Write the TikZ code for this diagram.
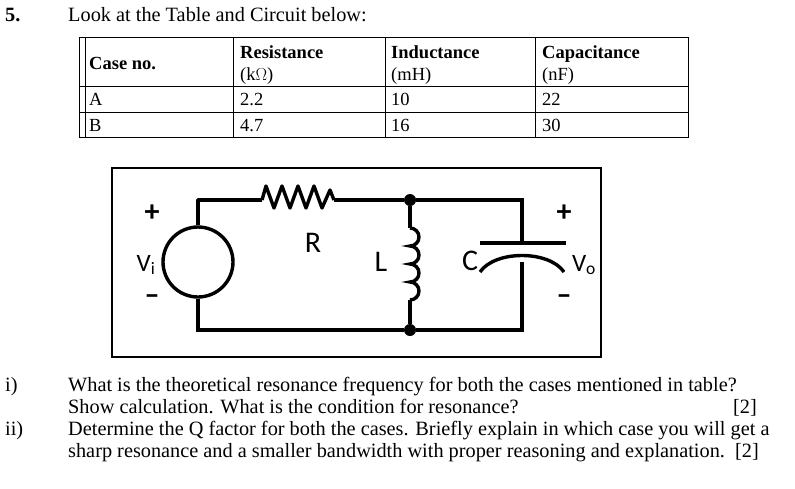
\documentclass[tikz,border=0pt]{standalone}
\usepackage{fontspec}
\setmainfont{Liberation Serif}
\newfontfamily\cktfont{Carlito}
\begin{document}
\begin{tikzpicture}[x=1pt,y=-1pt,
  txt/.style={anchor=base west,inner sep=0pt,font=\fontsize{20.3}{23}\selectfont},
  tab/.style={anchor=base west,inner sep=0pt,font=\fontsize{18.5}{20}\selectfont},
  tabb/.style={tab,font=\fontsize{18.5}{20}\selectfont\bfseries},
  ckt/.style={inner sep=0pt,font=\cktfont\fontsize{30}{32}\selectfont},
  vlab/.style={inner sep=0pt,font=\cktfont\fontsize{25}{27}\selectfont},
  wire/.style={line width=3.4pt},
  dot/.style={circle,fill,inner sep=0pt,minimum size=12pt}]
\useasboundingbox (0,0) rectangle (795,488);
% heading
\node[txt,font=\fontsize{20.3}{23}\selectfont\bfseries] (n5) at (5,21) {5.};
\node[txt] (intro) at (68,21) {Look at the Table and Circuit below:};
% table
\draw[line width=1pt] (79,37) rectangle (688,137);
\draw[line width=1pt] (85,37) -- (85,137);
\foreach \y in {86,112} \draw[line width=1pt] (79,\y) -- (688,\y);
\foreach \x in {233,385,535} \draw[line width=1pt] (\x,37) -- (\x,137);
\node[tabb] (h1) at (89,69) {Case no.};
\node[tabb] (h2) at (240,58) {Resistance};
\node[tab] (h2b) at (240,80) {(k$\Omega$)};
\node[tabb] (h3) at (391,58) {Inductance};
\node[tab] (h3b) at (391,80) {(mH)};
\node[tabb] (h4) at (542,58) {Capacitance};
\node[tab] (h4b) at (542,80) {(nF)};
\node[tab] (a1) at (89,105) {A};
\node[tab] (a2) at (240,105) {2.2};
\node[tab] (a3) at (391,105) {10};
\node[tab] (a4) at (542,105) {22};
\node[tab] (b1) at (89,131) {B};
\node[tab] (b2) at (240,131) {4.7};
\node[tab] (b3) at (391,131) {16};
\node[tab] (b4) at (542,131) {30};
% circuit box
\draw[line width=2.2pt] (112,168) rectangle (601,357);
\node[draw,circle,line width=3.4pt,minimum size=70pt,inner sep=0pt] (src) at (198,262) {};
\coordinate (tl) at (198,200);
\coordinate (bl) at (198,330);
\coordinate (r1) at (262,200);
\coordinate (r2) at (334,200);
\node[dot] (nt) at (410,200) {};
\node[dot] (nb) at (410,330) {};
\coordinate (tr) at (522,200);
\coordinate (br) at (522,330);
\coordinate (l1) at (410,228);
\coordinate (l2) at (410,300);
\draw[wire,line join=round] (src.north) -- (tl) -- (r1);
\draw[wire,line join=round] (r1) -- (266,186) -- (274,208) -- (282,186) -- (290,208) -- (298,186) -- (306,208) -- (314,186) -- (322,208) -- (330,190) -- (r2);
\draw[wire] (r2) -- (nt) -- (tr) -- (522,243);
\draw[wire] (src.south) -- (bl) -- (nb) -- (br) -- (522,262);
\draw[wire] (nt) -- (l1);
\draw[wire] (l1) arc[start angle=-90,end angle=90,radius=9] arc[start angle=-90,end angle=90,radius=9] arc[start angle=-90,end angle=90,radius=9] arc[start angle=-90,end angle=90,radius=9];
\draw[wire] (l2) -- (nb);
\draw[wire] (480,243) -- (566,243);
\draw[wire] (480,272) .. controls (495,250) and (549,250) .. (564,272);
\node[ckt] (pl) at (152,213) {\textbf{+}};
\node[vlab] (vi) at (146,265) {V\textsubscript{i}};
\node[ckt] (mi) at (152,300) {\textbf{–}};
\node[ckt] (lr) at (313,243) {R};
\node[ckt] (ll) at (381,262) {L};
\node[ckt] (lc) at (470,261) {C};
\node[ckt] (po) at (564,213) {\textbf{+}};
\node[vlab] (vo) at (584,265) {V\textsubscript{o}};
\node[ckt] (mo) at (564,300) {\textbf{–}};
% questions
\node[txt] (q1) at (5,391) {i)};
\node[txt] (q1a) at (68,391) {What is the theoretical resonance frequency for both the cases mentioned in table?};
\node[txt] (q1b) at (68,413) {Show calculation. What is the condition for resonance?};
\node[txt,anchor=base east] (q1c) at (757,413) {[2]};
\node[txt] (q2) at (5,435) {ii)};
\node[txt] (q2a) at (68,435) {Determine the Q factor for both the cases. Briefly explain in which case you will get a};
\node[txt] (q2b) at (68,457) {sharp resonance and a smaller bandwidth with proper reasoning and explanation.\ \ [2]};
\end{tikzpicture}
\end{document}
